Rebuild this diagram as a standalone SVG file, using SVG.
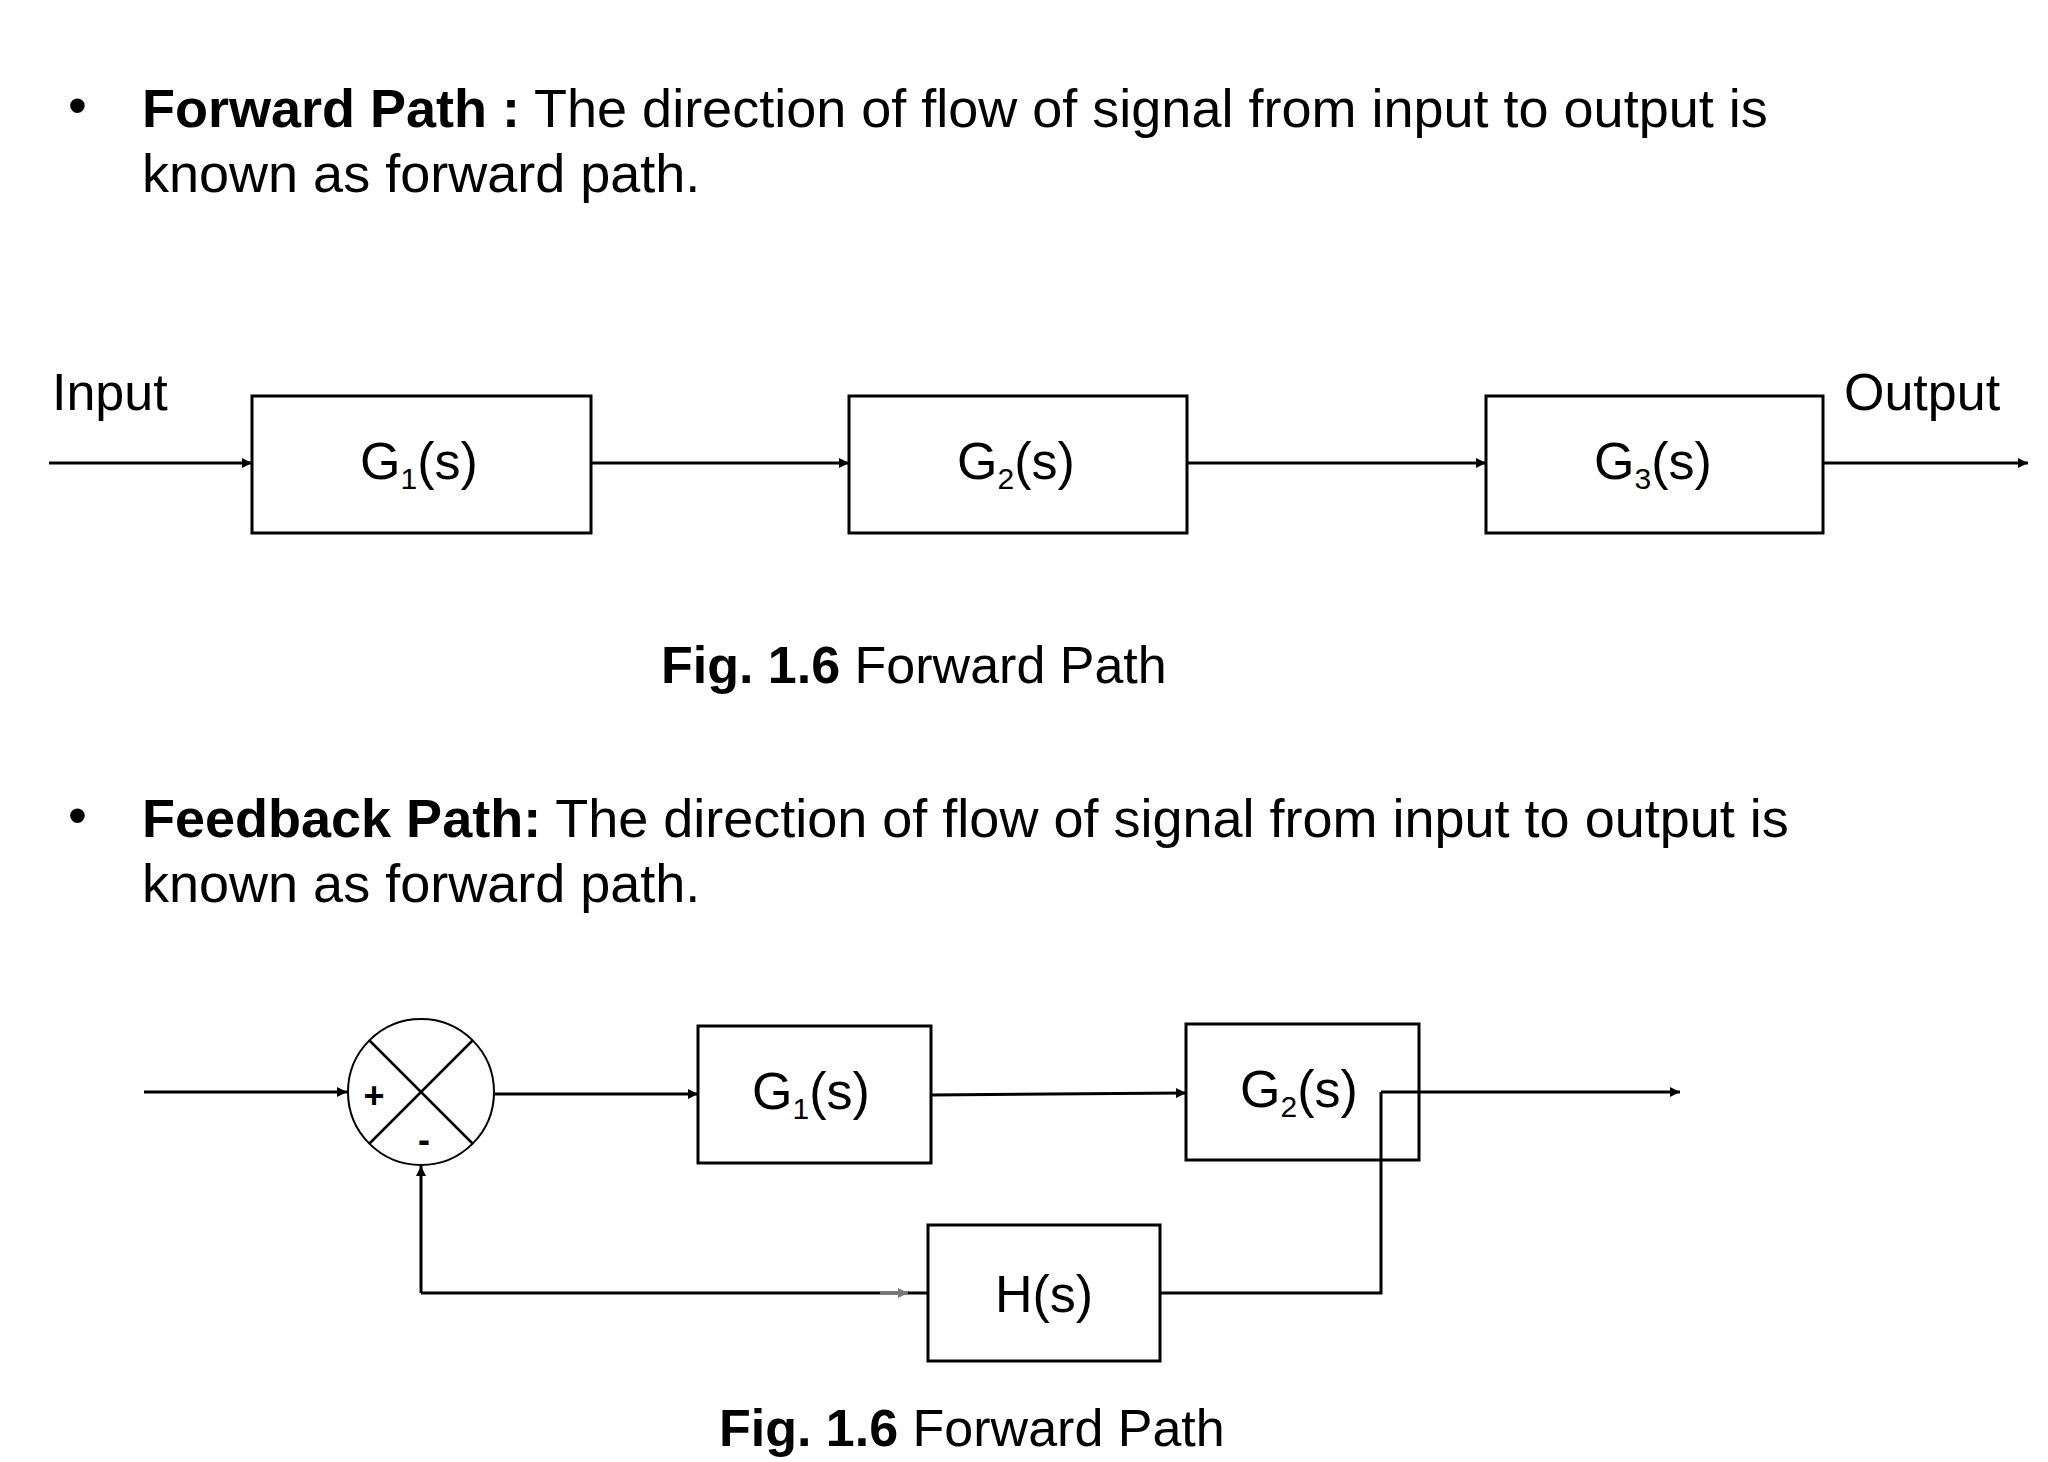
<svg xmlns="http://www.w3.org/2000/svg" width="2048" height="1462" viewBox="0 0 2048 1462">
<style>
text{font-family:"Liberation Sans",Arial,sans-serif;fill:#000}
.t{font-size:54px}
.b{font-weight:bold}
.lbl{font-size:52px}
.box{fill:#fff;stroke:#000;stroke-width:3}
.ln{fill:none;stroke:#000;stroke-width:3}
</style>
<defs>
<marker id="ah" viewBox="0 0 10 10" refX="10" refY="5" markerWidth="12" markerHeight="10" markerUnits="userSpaceOnUse" orient="auto"><path d="M0,0L10,5L0,10z" fill="#000"/></marker>
<marker id="ag" viewBox="0 0 10 10" refX="10" refY="5" markerWidth="12" markerHeight="10" markerUnits="userSpaceOnUse" orient="auto"><path d="M0,0L10,5L0,10z" fill="#777"/></marker>
</defs>
<text class="t" x="68" y="124">•</text>
<text class="t" x="142" y="127"><tspan class="b">Forward Path :</tspan> The direction of flow of signal from input to output is</text>
<text class="t" x="142" y="192">known as forward path.</text>
<text class="lbl" x="52" y="410">Input</text>
<text class="lbl" x="1844" y="410">Output</text>
<g id="connectors1">
<line class="ln" x1="49" y1="463" x2="252" y2="463" marker-end="url(#ah)"/>
<line class="ln" x1="591" y1="463" x2="849" y2="463" marker-end="url(#ah)"/>
<line class="ln" x1="1187" y1="463" x2="1486" y2="463" marker-end="url(#ah)"/>
<line class="ln" x1="1823" y1="463" x2="2028" y2="463" marker-end="url(#ah)"/>
</g>
<g id="g1a"><rect class="box" x="252" y="396" width="339" height="137"/><text class="lbl" x="360" y="479">G<tspan font-size="30" dy="10">1</tspan><tspan dy="-10">(s)</tspan></text></g>
<g id="g2a"><rect class="box" x="849" y="396" width="338" height="137"/><text class="lbl" x="957" y="479">G<tspan font-size="30" dy="10">2</tspan><tspan dy="-10">(s)</tspan></text></g>
<g id="g3a"><rect class="box" x="1486" y="396" width="337" height="137"/><text class="lbl" x="1594" y="479">G<tspan font-size="30" dy="10">3</tspan><tspan dy="-10">(s)</tspan></text></g>
<text class="lbl" x="661" y="683"><tspan class="b">Fig. 1.6</tspan> Forward Path</text>

<text class="t" x="68" y="834">•</text>
<text class="t" x="142" y="837"><tspan class="b">Feedback Path:</tspan> The direction of flow of signal from input to output is</text>
<text class="t" x="142" y="902">known as forward path.</text>

<g id="connectors2">
<line class="ln" x1="144" y1="1092" x2="347" y2="1092" marker-end="url(#ah)"/>
<line class="ln" x1="495" y1="1094" x2="698" y2="1094" marker-end="url(#ah)"/>
<line class="ln" x1="931" y1="1095" x2="1186" y2="1093" marker-end="url(#ah)"/>
<line class="ln" x1="1381" y1="1092" x2="1680" y2="1092" marker-end="url(#ah)"/>
<polyline class="ln" points="1381,1092 1381,1293 1160,1293"/>
<line class="ln" x1="928" y1="1293" x2="421" y2="1293"/>
<line x1="880" y1="1293" x2="908" y2="1293" stroke="#777" stroke-width="3" marker-end="url(#ag)"/>
<line class="ln" x1="421" y1="1293" x2="421" y2="1166" marker-end="url(#ah)"/>
</g>
<g id="sum">
<circle cx="421" cy="1092" r="73" fill="#fff" stroke="#000" stroke-width="2"/>
<line x1="369" y1="1040" x2="473" y2="1144" stroke="#000" stroke-width="2.5"/>
<line x1="473" y1="1040" x2="369" y2="1144" stroke="#000" stroke-width="2.5"/>
<text x="374" y="1108" font-size="36" font-weight="bold" text-anchor="middle">+</text>
<text x="424" y="1152" font-size="36" font-weight="bold" text-anchor="middle">-</text>
</g>
<g id="g1b"><rect class="box" x="698" y="1026" width="233" height="137"/><text class="lbl" x="752" y="1109">G<tspan font-size="30" dy="10">1</tspan><tspan dy="-10">(s)</tspan></text></g>
<g id="g2b"><rect class="box" x="1186" y="1024" width="233" height="136" fill="none" style="fill:none"/><text class="lbl" x="1240" y="1107">G<tspan font-size="30" dy="10">2</tspan><tspan dy="-10">(s)</tspan></text></g>
<g id="hb"><rect class="box" x="928" y="1225" width="232" height="136"/><text class="lbl" x="1044" y="1312" text-anchor="middle">H(s)</text></g>
<text class="lbl" x="719" y="1446"><tspan class="b">Fig. 1.6</tspan> Forward Path</text>
</svg>
